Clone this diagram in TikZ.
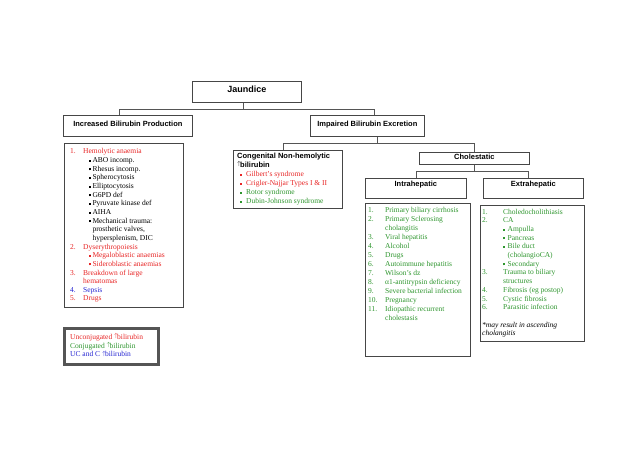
\documentclass[tikz,border=0pt]{standalone}
\usepackage{fontspec}
\setmainfont{Liberation Serif}
\setsansfont{Liberation Sans}
\definecolor{cred}{RGB}{232,38,38}
\definecolor{cgreen}{RGB}{46,150,46}
\definecolor{cblue}{RGB}{36,36,210}
\definecolor{bord}{RGB}{70,70,70}
\definecolor{lgrey}{RGB}{85,85,85}
\newcommand\lnum[3]{\makebox[#1][l]{#2}#3}
\newcommand\lbul[3]{\hspace*{#1}\makebox[#2][l]{\raisebox{0.9pt}{\rule{2pt}{2pt}}}#3}
\newcommand\lcont[2]{\hspace*{#1}#2}
\newcommand\upar{\raisebox{1.6pt}{\fontsize{6}{6}\selectfont$\uparrow$}\kern-0.8pt}
\begin{document}
\begin{tikzpicture}[x=1pt,y=-1pt,
  box/.style={draw=bord, line width=0.8pt, inner sep=0pt, anchor=north west},
  conn/.style={draw=lgrey, line width=0.8pt},
  htext/.style={font=\sffamily\bfseries\fontsize{7.5}{9}\selectfont, inner sep=0pt, anchor=base},
  listtext/.style={font=\fontsize{7.5}{#1}\selectfont, align=left, inner sep=0pt, anchor=north west}]
\useasboundingbox[fill=white] (0,0) rectangle (640,452);
% boxes
\node[box, minimum width=109pt, minimum height=21pt] (jau) at (192,81) {};
\node[box, minimum width=129pt, minimum height=21pt] (incr) at (63,115) {};
\node[box, minimum width=114pt, minimum height=21pt] (imp) at (310,115) {};
\node[box, minimum width=119pt, minimum height=164pt] (llist) at (64,143) {};
\node[box, minimum width=109pt, minimum height=58pt] (cong) at (233,150) {};
\node[box, minimum width=110pt, minimum height=12pt] (chol) at (419,152) {};
\node[box, minimum width=101pt, minimum height=20pt] (intra) at (365,178) {};
\node[box, minimum width=100pt, minimum height=20pt] (extra) at (483,178) {};
\node[box, minimum width=105pt, minimum height=153pt] (ilist) at (365,203) {};
\node[box, minimum width=104pt, minimum height=136pt] (elist) at (479.5,205) {};
\node[box, line width=2.5pt, draw=lgrey, minimum width=94pt, minimum height=36pt] (legend) at (63,327) {};
% heading texts
\node[htext, font=\sffamily\bfseries\fontsize{9}{10}\selectfont] (jauT) at ([yshift=-11.5pt]jau.north) {Jaundice};
\node[htext] (incrT) at ([yshift=-11pt]incr.north) {Increased Bilirubin Production};
\node[htext] (impT) at ([yshift=-11pt]imp.north) {Impaired Bilirubin Excretion};
\node[htext] (cholT) at ([yshift=-7.3pt]chol.north) {Cholestatic};
\node[htext] (intraT) at ([yshift=-8.3pt]intra.north) {Intrahepatic};
\node[htext] (extraT) at ([yshift=-8.3pt]extra.north) {Extrahepatic};
\node[htext, align=left, anchor=north west, font=\sffamily\bfseries\fontsize{7.5}{9}\selectfont] (congT) at (237,152.6) {Congenital Non-hemolytic\\\upar bilirubin};
% connectors
\draw[conn] ([xshift=-3.5pt]jau.south) -- ++(0,7) -| ([xshift=-8.5pt]incr.north);
\draw[conn] ([xshift=-3.5pt]jau.south) -- ++(0,7) -| ([xshift=7pt]imp.north);
\draw[conn] ([xshift=10pt]imp.south) -- ++(0,7) -| ([xshift=-4.5pt]cong.north);
\draw[conn] ([xshift=10pt]imp.south) -- ++(0,7) -| (chol.north);
\draw[conn] (chol.south) -- ++(0,7) -| (intra.north);
\draw[conn] (chol.south) -- ++(0,7) -| ([xshift=-5pt]extra.north);
% lists
\node[listtext=8.65pt] (llistT) at (70,148.5) {%
\textcolor{cred}{\lnum{13pt}{1.}{Hemolytic anaemia}}\\
\lbul{18.3pt}{4pt}{ABO incomp.}\\
\lbul{18.3pt}{4pt}{Rhesus incomp.}\\
\lbul{18.3pt}{4pt}{Spherocytosis}\\
\lbul{18.3pt}{4pt}{Elliptocytosis}\\
\lbul{18.3pt}{4pt}{G6PD def}\\
\lbul{18.3pt}{4pt}{Pyruvate kinase def}\\
\lbul{18.3pt}{4pt}{AIHA}\\
\lbul{18.3pt}{4pt}{Mechanical trauma:}\\
\lcont{22.3pt}{prosthetic valves,}\\
\lcont{22.3pt}{hypersplenism, DIC}\\
\textcolor{cred}{\lnum{13pt}{2.}{Dyserythropoiesis}}\\
\textcolor{cred}{\lbul{18.3pt}{4pt}{Megaloblastic anaemias}}\\
\textcolor{cred}{\lbul{18.3pt}{4pt}{Sideroblastic anaemias}}\\
\textcolor{cred}{\lnum{13pt}{3.}{Breakdown of large}}\\
\textcolor{cred}{\lcont{13pt}{hematomas}}\\
\textcolor{cblue}{\lnum{13pt}{4.}{Sepsis}}\\
\textcolor{cred}{\lnum{13pt}{5.}{Drugs}}};
\node[listtext=9.1pt] (congL) at (240,171) {%
\textcolor{cred}{\lbul{0pt}{6pt}{Gilbert’s syndrome}}\\
\textcolor{cred}{\lbul{0pt}{6pt}{Crigler-Najjar Types I \& II}}\\
\textcolor{cgreen}{\lbul{0pt}{6pt}{Rotor syndrome}}\\
\textcolor{cgreen}{\lbul{0pt}{6pt}{Dubin-Johnson syndrome}}};
\node[listtext=9pt, text=cgreen] (ilistT) at (368,206.6) {%
\lnum{17pt}{1.}{Primary biliary cirrhosis}\\
\lnum{17pt}{2.}{Primary Sclerosing}\\
\lcont{17pt}{cholangitis}\\
\lnum{17pt}{3.}{Viral hepatitis}\\
\lnum{17pt}{4.}{Alcohol}\\
\lnum{17pt}{5.}{Drugs}\\
\lnum{17pt}{6.}{Autoimmune hepatitis}\\
\lnum{17pt}{7.}{Wilson’s dz}\\
\lnum{17pt}{8.}{α1-antitrypsin deficiency}\\
\lnum{17pt}{9.}{Severe bacterial infection}\\
\lnum{17pt}{10.}{Pregnancy}\\
\lnum{17pt}{11.}{Idiopathic recurrent}\\
\lcont{17pt}{cholestasis}};
\node[listtext=8.7pt] (elistT) at (482,208.6) {%
\textcolor{cgreen}{\lnum{21pt}{1.}{Choledocholithiasis}}\\
\textcolor{cgreen}{\lnum{21pt}{2.}{CA}}\\
\textcolor{cgreen}{\lbul{21pt}{4.5pt}{Ampulla}}\\
\textcolor{cgreen}{\lbul{21pt}{4.5pt}{Pancreas}}\\
\textcolor{cgreen}{\lbul{21pt}{4.5pt}{Bile duct}}\\
\textcolor{cgreen}{\lcont{25.5pt}{(cholangioCA)}}\\
\textcolor{cgreen}{\lbul{21pt}{4.5pt}{Secondary}}\\
\textcolor{cgreen}{\lnum{21pt}{3.}{Trauma to biliary}}\\
\textcolor{cgreen}{\lcont{21pt}{structures}}\\
\textcolor{cgreen}{\lnum{21pt}{4.}{Fibrosis (eg postop)}}\\
\textcolor{cgreen}{\lnum{21pt}{5.}{Cystic fibrosis}}\\
\textcolor{cgreen}{\lnum{21pt}{6.}{Parasitic infection}}\\[8.7pt]
\textit{*may result in ascending}\\
\textit{cholangitis}};
\node[listtext=8.8pt] (legendT) at (70,333.3) {%
\textcolor{cred}{Unconjugated \upar bilirubin}\\
\textcolor{cgreen}{Conjugated \upar bilirubin}\\
\textcolor{cblue}{UC and C \upar bilirubin}};
\end{tikzpicture}
\end{document}
